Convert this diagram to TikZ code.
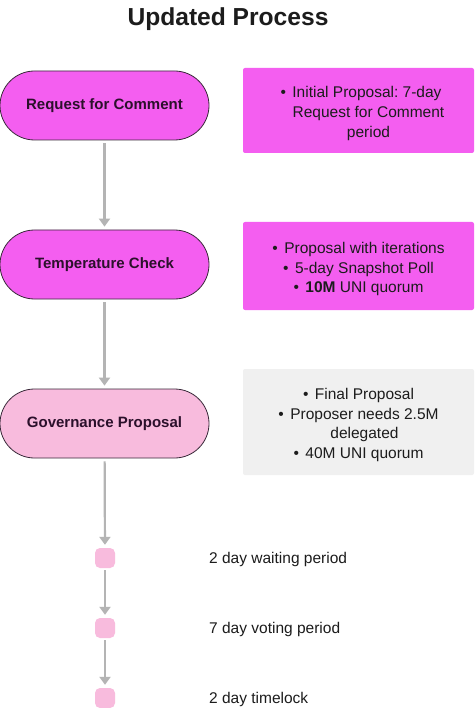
\documentclass[tikz,border=0pt]{standalone}
\usepackage{fontspec}
\setmainfont{Liberation Sans}
\usetikzlibrary{arrows.meta}
\definecolor{mag}{HTML}{F45EF0}
\definecolor{lpink}{HTML}{F8BBDD}
\definecolor{lgray}{HTML}{F0F0F0}
\definecolor{arrgray}{HTML}{B4B4B4}
\definecolor{pilltext}{HTML}{2B102B}
\definecolor{pillborder}{HTML}{3A2A3A}
\definecolor{txt}{HTML}{1C1C1C}
\frenchspacing
\tikzset{
  pill/.style={rectangle, rounded corners=34.5pt, minimum width=209pt, minimum height=69pt,
    draw=pillborder, line width=0.8pt, text=pilltext, font=\fontsize{15}{18}\selectfont\bfseries, inner sep=0pt},
  infobox/.style={rectangle, rounded corners=2pt, minimum width=231pt, inner sep=0pt},
  infotext/.style={inner sep=0pt, text=txt, font=\fontsize{15.5}{19.8}\selectfont, align=center, yshift=-3pt},
  dot/.style={rectangle, rounded corners=5pt, minimum size=20pt, fill=lpink, inner sep=0pt},
  lbl/.style={anchor=west, text=txt, font=\fontsize{15.5}{18}\selectfont, inner sep=0pt},
  arr/.style={draw=arrgray, line width=2.2pt, -{Triangle[length=8pt,width=11pt]}},
}
\newcommand{\bul}{•\hspace{6.5pt}}
\begin{document}
\begin{tikzpicture}[x=1pt,y=-1pt]
\useasboundingbox (0,0) rectangle (474,708);
\fill[white] (0,0) rectangle (474,708);
\node[font=\fontsize{24.6}{28}\selectfont\bfseries, text=txt] (title) at (228,19) {Updated Process};

\node[pill, fill=mag] (p1) at (104.5,105.5) {Request for Comment};
\node[pill, fill=mag] (p2) at (104.5,264.5) {Temperature Check};
\node[pill, fill=lpink] (p3) at (104.5,423.5) {Governance Proposal};

\node[infobox, fill=mag, minimum height=85pt] (b1) at (358.5,110.5) {};
\node[infotext, xshift=4pt] (t1) at (b1.center)
  {\hspace*{-3pt}\bul Initial Proposal: 7-day\\ \hphantom{\bul}Request for Comment\\ \hphantom{\bul}period};
\node[infobox, fill=mag, minimum height=88pt] (b2) at (358.5,266) {};
\node[infotext] (t2) at (b2.center)
  {\bul Proposal with iterations\\ \bul 5-day Snapshot Poll\\ \bul \textbf{10M} UNI quorum};
\node[infobox, fill=lgray, minimum height=106pt] (b3) at (358.5,422) {};
\node[infotext] (t3) at (b3.center)
  {\bul Final Proposal\\ \bul Proposer needs 2.5M\\ \hphantom{\bul}delegated\\ \bul 40M UNI quorum};

\node[dot] (d1) at (105,558) {};
\node[dot] (d2) at (105,628) {};
\node[dot] (d3) at (105,698) {};

\node[lbl] (l1) at (209,559.5) {2 day waiting period};
\node[lbl] (l2) at (209,629.5) {7 day voting period};
\node[lbl] (l3) at (209,699.5) {2 day timelock};

\draw[arr, shorten <=3pt, shorten >=3pt] (p1) -- (p2);
\draw[arr, shorten <=3pt, shorten >=3pt] (p2) -- (p3);
\draw[arr, shorten <=3pt, shorten >=3pt] (p3) -- (d1);
\draw[arr, shorten <=2pt, shorten >=3pt] (d1) -- (d2);
\draw[arr, shorten <=2pt, shorten >=3pt] (d2) -- (d3);
\end{tikzpicture}
\end{document}
